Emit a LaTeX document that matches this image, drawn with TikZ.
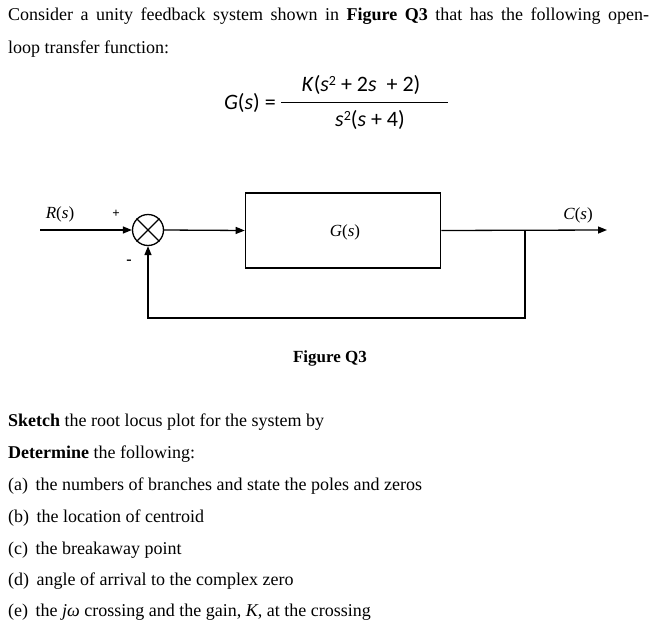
\documentclass[tikz,border=0pt]{standalone}
\usepackage{fontspec}
\setmainfont{Liberation Serif}
\newfontfamily\eqfont{Carlito}
\usetikzlibrary{arrows.meta}
\begin{document}
\begin{tikzpicture}[x=1pt,y=-1pt,
  txt/.style={anchor=base west,inner sep=0,font=\fontsize{18}{21}\selectfont},
  lbl/.style={inner sep=0,font=\fontsize{17}{20}\selectfont},
  eq/.style={inner sep=0,font=\eqfont\fontsize{22}{24}\selectfont},
  ln/.style={line width=1.3pt},
  arr/.style={ln,-{Triangle[length=9pt,width=7pt]}}]
\useasboundingbox[fill=white] (0,0) rectangle (655,626);
\node[txt] (l1) at (8,21) {\makebox[641pt][s]{Consider a unity feedback system shown in \textbf{Figure Q3} that has the following open-}};
\node[txt] (l2) at (8,53) {loop transfer function:};
\node[eq,anchor=east] (gl) at (276,103) {\textit{G}(\textit{s}) =};
\node[eq] (num) at (361,85) {\textit{K}(\textit{s}\raisebox{0.6ex}{\fontsize{14}{14}\selectfont 2} + 2\textit{s}\ \ + 2)};
\node[eq] (den) at (370,120) {\textit{s}\raisebox{0.6ex}{\fontsize{14}{14}\selectfont 2}(\textit{s} + 4)};
\draw[line width=0.7pt] (281,102) -- (448,102);
% block diagram
\node[lbl] (R) at (60,214) {\textit{R}(\textit{s})};
\coordinate (in) at (40,230);
\node[circle,draw,line width=1.3pt,minimum size=31pt,inner sep=0] (sum) at (148,230) {};
\draw[ln] (sum.north west) -- (sum.south east) (sum.north east) -- (sum.south west);
\node[font=\bfseries\fontsize{13}{13}\selectfont,inner sep=0] (plus) at (116,214) {+};
\node[font=\bfseries\fontsize{16}{16}\selectfont,inner sep=0] (minus) at (129,262) {-};
\node[draw,line width=1.6pt,minimum width=195pt,minimum height=75pt,inner sep=0] (G) at (343,230.5) {};
\node[lbl] (Gl) at (345,232) {\textit{G}(\textit{s})};
\node[lbl] (C) at (578,215) {\textit{C}(\textit{s})};
\coordinate (out) at (607,230);
\coordinate (tap) at (525,230);
\coordinate (bl) at (148,318);
\coordinate (br) at (525,318);
\draw[arr] (in) -- (sum.west);
\draw[arr] (sum.east) -- (G.west);
\draw[arr] (G.east) -- (out);
\draw[arr] (tap) -- (br) -- (bl) -- (sum.south);
\node[font=\bfseries\fontsize{17}{20}\selectfont,inner sep=0] (fig) at (330,358) {Figure Q3};
\node[txt] (t1) at (8,426) {\textbf{Sketch} the root locus plot for the system by};
\node[txt] (t2) at (8,458) {\textbf{Determine} the following:};
\node[txt] (t3) at (8,490) {(a)\, the numbers of branches and state the poles and zeros};
\node[txt] (t4) at (8,522) {(b)\, the location of centroid};
\node[txt] (t5) at (8,554) {(c)\, the breakaway point};
\node[txt] (t6) at (8,585) {(d)\, angle of arrival to the complex zero};
\node[txt] (t7) at (8,616) {(e)\, the \textit{jω} crossing and the gain, \textit{K}, at the crossing};
\end{tikzpicture}
\end{document}
